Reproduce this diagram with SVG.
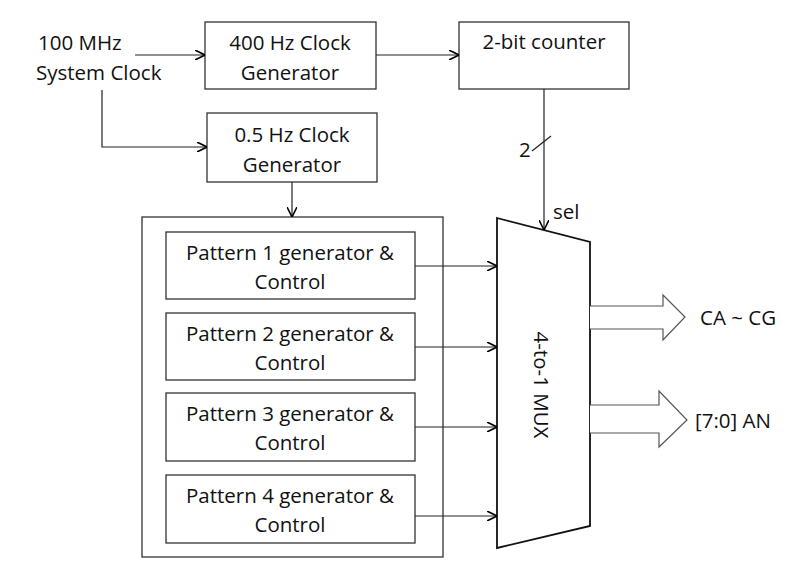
<svg xmlns="http://www.w3.org/2000/svg" width="802" height="573" viewBox="0 0 802 573">
<defs>
<marker id="ah" viewBox="0 0 10 10" refX="10" refY="5" markerWidth="10" markerHeight="10" markerUnits="userSpaceOnUse" orient="auto"><path d="M0,0 L10,5 L0,10" fill="none" stroke="#000" stroke-width="1.6"/></marker>
<style>
text{font-family:"Open Sans","Liberation Sans",sans-serif;font-size:20.5px;fill:#111}
.b{fill:#fff;stroke:#333;stroke-width:1.3}
.c{fill:none;stroke:#222;stroke-width:1.2}
.m{text-anchor:middle}
</style>
</defs>
<rect width="802" height="573" fill="#fff"/>
<g id="sysclk"><text x="38" y="50">100 MHz</text><text x="36" y="80">System Clock</text></g>
<g id="clk400"><rect class="b" x="205" y="22" width="171" height="67"/><text class="m" x="290" y="50">400 Hz Clock</text><text class="m" x="290" y="80">Generator</text></g>
<g id="counter"><rect class="b" x="459" y="22" width="170" height="67"/><text class="m" x="544" y="49">2-bit counter</text></g>
<g id="clk05"><rect class="b" x="207" y="113" width="170" height="69"/><text class="m" x="292" y="142">0.5 Hz Clock</text><text class="m" x="292" y="172">Generator</text></g>
<g id="container"><rect class="b" x="142" y="217" width="301" height="340"/></g>
<g id="p1"><rect class="b" x="166" y="232" width="249" height="67"/><text class="m" x="290" y="260">Pattern 1 generator &amp;</text><text class="m" x="290" y="289">Control</text></g>
<g id="p2"><rect class="b" x="166" y="313" width="249" height="67"/><text class="m" x="290" y="341">Pattern 2 generator &amp;</text><text class="m" x="290" y="370">Control</text></g>
<g id="p3"><rect class="b" x="166" y="393" width="249" height="68"/><text class="m" x="290" y="421">Pattern 3 generator &amp;</text><text class="m" x="290" y="450">Control</text></g>
<g id="p4"><rect class="b" x="166" y="475" width="249" height="68"/><text class="m" x="290" y="503">Pattern 4 generator &amp;</text><text class="m" x="290" y="532">Control</text></g>
<g id="mux"><path d="M497,218 L590,242 L590,526 L497,548 Z" fill="#fff" stroke="#111" stroke-width="1.8"/><text class="m" transform="translate(541,385) rotate(90)" dy="7">4-to-1 MUX</text></g>
<g id="outs">
<path d="M590,306 L663,306 L663,295 L685,317 L663,340 L663,329 L590,329" fill="#fff" stroke="#555" stroke-width="1.2"/>
<path d="M590,405 L659,405 L659,391 L687,420 L659,447 L659,433 L590,433" fill="#fff" stroke="#555" stroke-width="1.2"/>
<text x="700" y="325">CA ~ CG</text><text x="695" y="428">[7:0] AN</text>
</g>
<g id="connectors">
<path class="c" d="M135,55 H205" marker-end="url(#ah)"/>
<path class="c" d="M102,90 V147 H207" marker-end="url(#ah)"/>
<path class="c" d="M376,55 H459" marker-end="url(#ah)"/>
<path class="c" d="M292,182 V217" marker-end="url(#ah)"/>
<path class="c" d="M544,89 V230" marker-end="url(#ah)"/>
<path class="c" d="M532,151 L551,136" stroke-width="0.9"/>
<text x="519" y="157">2</text>
<text x="553" y="219">sel</text>
<path class="c" d="M415,266 H497" marker-end="url(#ah)"/>
<path class="c" d="M415,347 H497" marker-end="url(#ah)"/>
<path class="c" d="M415,427 H497" marker-end="url(#ah)"/>
<path class="c" d="M415,516 H497" marker-end="url(#ah)"/>
</g>
</svg>
